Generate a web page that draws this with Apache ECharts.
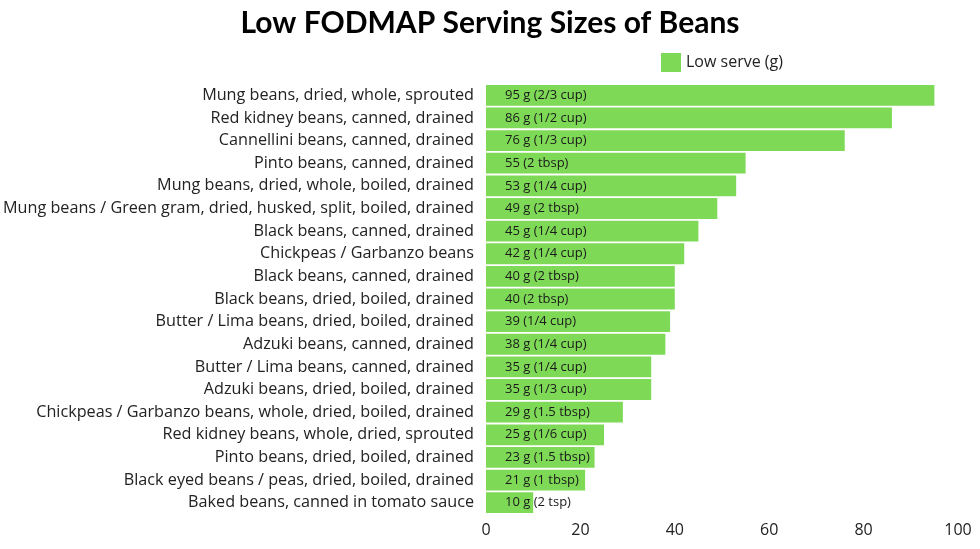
<!DOCTYPE html>
<html><head><meta charset="utf-8">
<script src="https://cdn.jsdelivr.net/npm/echarts@6/dist/echarts.min.js"></script>
<style>html,body{margin:0;padding:0;background:#fff}#c{width:980px;height:549px}</style>
</head><body><div id="c"></div>
<script>
const categories = [
 "Mung beans, dried, whole, sprouted",
 "Red kidney beans, canned, drained",
 "Cannellini beans, canned, drained",
 "Pinto beans, canned, drained",
 "Mung beans, dried, whole, boiled, drained",
 "Mung beans / Green gram, dried, husked, split, boiled, drained",
 "Black beans, canned, drained",
 "Chickpeas / Garbanzo beans",
 "Black beans, canned, drained",
 "Black beans, dried, boiled, drained",
 "Butter / Lima beans, dried, boiled, drained",
 "Adzuki beans, canned, drained",
 "Butter / Lima beans, canned, drained",
 "Adzuki beans, dried, boiled, drained",
 "Chickpeas / Garbanzo beans, whole, dried, boiled, drained",
 "Red kidney beans, whole, dried, sprouted",
 "Pinto beans, dried, boiled, drained",
 "Black eyed beans / peas, dried, boiled, drained",
 "Baked beans, canned in tomato sauce"
];
const lowServe = [95, 86, 76, 55, 53, 49, 45, 42, 40, 40, 39, 38, 35, 35, 29, 25, 23, 21, 10];
const servingLabels = [
 "95 g (2/3 cup)", "86 g (1/2 cup)", "76 g (1/3 cup)", "55 (2 tbsp)", "53 g (1/4 cup)",
 "49 g (2 tbsp)", "45 g (1/4 cup)", "42 g (1/4 cup)", "40 g (2 tbsp)", "40 (2 tbsp)",
 "39 (1/4 cup)", "38 g (1/4 cup)", "35 g (1/4 cup)", "35 g (1/3 cup)", "29 g (1.5 tbsp)",
 "25 g (1/6 cup)", "23 g (1.5 tbsp)", "21 g (1 tbsp)", "10 g (2 tsp)"
];
const xTicks = [0, 20, 40, 60, 80, 100];
const seriesName = "Low serve (g)";

const font = "'Open Sans', 'Noto Sans', sans-serif";
const chart = echarts.init(document.getElementById('c'));
chart.setOption({
  animation: false,
  textStyle: { fontFamily: font },
  title: {
    text: "Low FODMAP Serving Sizes of Beans",
    left: 'center', top: 3,
    textStyle: { fontFamily: "Lato, 'Open Sans', sans-serif", fontWeight: 'bold', fontSize: 30, color: '#000' }
  },
  legend: {
    data: [seriesName],
    left: 656, top: 48,
    itemWidth: 20, itemHeight: 19, itemGap: 7,
    icon: 'rect',
    textStyle: { fontSize: 16, color: '#222', fontFamily: font }
  },
  grid: { left: 486, right: 22, top: 84, bottom: 35, containLabel: false },
  xAxis: {
    type: 'value', min: xTicks[0], max: xTicks[xTicks.length - 1], interval: 20,
    axisLine: { show: false }, axisTick: { show: false }, splitLine: { show: false },
    axisLabel: { fontSize: 16, color: '#222', margin: 8 }
  },
  yAxis: {
    type: 'category', data: categories, inverse: true,
    axisLine: { show: false }, axisTick: { show: false },
    axisLabel: { fontSize: 16.2, color: '#222', margin: 12 }
  },
  series: [{
    name: seriesName, type: 'bar', data: lowServe,
    barCategoryGap: '8%',
    itemStyle: { color: '#7ed957' },
    label: {
      show: true, position: 'insideLeft', distance: 19,
      fontSize: 13, color: '#1a1a1a',
      formatter: p => servingLabels[p.dataIndex]
    }
  }]
});
</script></body></html>
